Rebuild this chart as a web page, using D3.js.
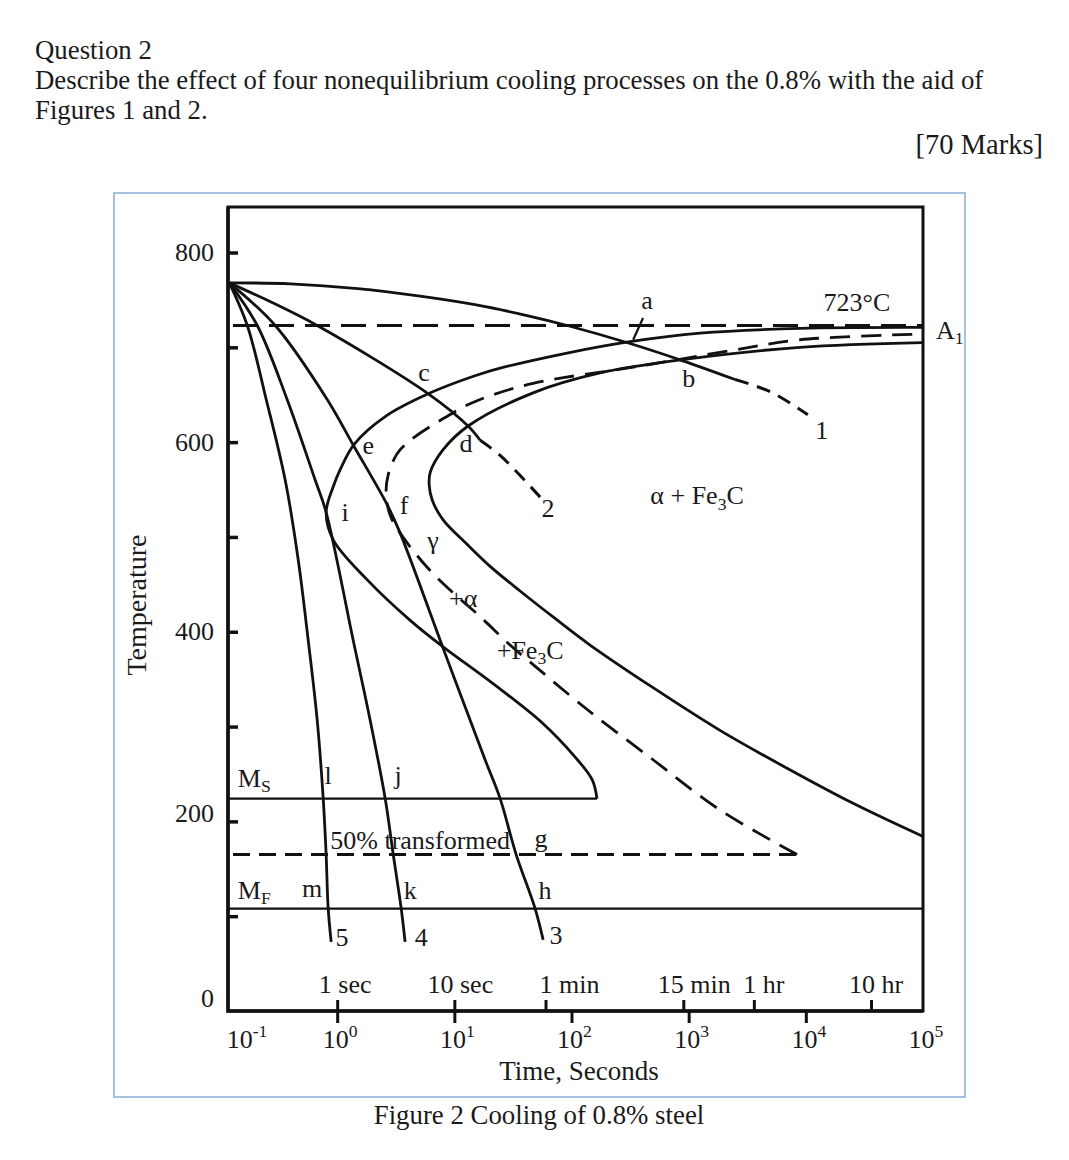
<!DOCTYPE html>
<html>
<head>
<meta charset="utf-8">
<script src="https://cdn.jsdelivr.net/npm/d3@7"></script>
<style>
body { margin: 0; background: #fff; }
svg text { font-family: "Liberation Serif", "Times New Roman", serif; fill: #1a1a1a; }
</style>
</head>
<body>
<svg id="chart" width="1069" height="1160"></svg>
<script>
"use strict";

// [time in seconds, temperature in C]
const COOLING_1 = [[0.12, 768], [0.4, 767], [1.5, 762], [5.1, 754], [15, 745], [40, 734], [92, 723], [316, 704], [880, 686], [2490, 666]];
const COOLING_1_TAIL = [[2490, 666], [5000, 653], [10400, 629]];
const COOLING_2 = [[0.12, 768], [0.27, 748], [0.675, 723], [6.0, 651], [13.1, 617], [16.6, 602]];
const COOLING_2_TAIL = [[16.6, 602], [24.6, 586], [54, 542]];
const COOLING_3 = [[0.12, 768], [0.296, 723], [0.822, 645], [1.37, 597], [2.67, 534], [3.45, 504], [8.0, 383], [18.3, 265], [24.6, 224], [33.7, 165], [48.9, 108], [57.3, 75]];
const COOLING_4 = [[0.12, 768], [0.208, 723], [0.374, 645], [0.649, 560], [0.805, 526], [1.37, 391], [1.91, 307], [2.57, 224], [3.01, 165], [3.52, 108], [3.80, 73]];
const COOLING_5 = [[0.12, 768], [0.171, 723], [0.248, 645], [0.360, 560], [0.465, 476], [0.566, 391], [0.675, 307], [0.760, 224], [0.805, 165], [0.838, 108], [0.889, 73]];

const START_CURVE = [[165, 224], [150, 244], [107, 268], [56.1, 304], [21.0, 346], [8.02, 384], [4.20, 412], [1.80, 455], [0.925, 497], [0.805, 526], [0.925, 553], [1.06, 571], [1.40, 598], [2.57, 627], [5.98, 651], [15.0, 670], [24.6, 678], [91.7, 694], [316, 706], [1250, 715], [8930, 720], [100000, 721]];
const HALF_CURVE = [[8410, 165], [1850, 212], [497, 265], [136, 318], [44.4, 368], [29.9, 386], [16.6, 416], [9.77, 441], [5.86, 468], [3.45, 504], [2.83, 523], [2.62, 544], [2.72, 565], [3.45, 592], [9.77, 631], [16.6, 645], [47.0, 662], [336, 679], [2390, 697], [8930, 708], [100000, 714]];
const FINISH_CURVE = [[100000, 184], [25300, 219], [6920, 256], [1850, 296], [497, 341], [144, 386], [72.4, 414], [36.4, 443], [20.2, 469], [12.9, 492], [8.02, 518], [6.47, 539], [6.10, 555], [6.22, 568], [8.02, 592], [13.1, 617], [47.0, 652], [175, 673], [879, 687], [8930, 700], [100000, 705]];

const A_MARK = [[336, 708], [408, 731]];

const T_A1 = 723;
const T_MS = 224;
const T_HALF = 165;
const T_MF = 108;
const HALF_END = 8410;

const Y_TICKS = [100, 200, 300, 400, 500, 600, 700, 800];
const Y_LABELS = [0, 200, 400, 600, 800];
const DECADES = [0.1, 1, 10, 100, 1000, 10000, 100000];
const DECADE_LABELS = ["10^-1", "10^0", "10^1", "10^2", "10^3", "10^4", "10^5"];
const TIME_MARKS = [1, 10, 60, 900, 3600, 36000];
const TIME_LABELS = ["1 sec", "10 sec", "1 min", "15 min", "1 hr", "10 hr"];

const NOTES = [
	["a", 442, 750], ["b", 1000, 668], ["c", 5.52, 674], ["d", 12.6, 599], ["e", 1.84, 597],
	["f", 3.73, 534], ["i", 1.17, 526], ["γ", 6.59, 497], ["+α", 11.9, 436], ["+Fe_3C", 44.4, 381],
	["1", 13700, 613], ["2", 63.1, 531], ["α + Fe_3C", 1180, 544], ["723°C", 27300, 748],
	["M_S", 0.196, 246], ["l", 0.838, 249], ["j", 3.31, 249],
	["50% transformed", 5.11, 180], ["g", 55.0, 182],
	["M_F", 0.196, 128], ["m", 0.612, 130], ["k", 4.20, 128], ["h", 59.5, 128],
	["5", 1.10, 78], ["4", 5.21, 78], ["3", 73.9, 80],
];

(function() {

const LEFT = 228, RIGHT = 923, TOP = 207, BOTTOM = 1011;
const FS = 26;
const LW = 2.8;

let svg = d3.select("#chart");

let x = d3.scaleLog().domain([0.117, 1e5]).range([LEFT, RIGHT]);
let y = d3.scaleLinear().domain([0, 848]).range([BOTTOM, TOP]);

// text with "_x" subscripts and "^x" superscripts
function rich(sel, str, size) {
	let re = /([_^])(-?\w)|([^_^]+)/g, m, offset = 0;
	sel.attr("font-size", size);
	while ((m = re.exec(str))) {
		let kind = m[3] ? 0 : (m[1] === "_" ? 1 : -1);
		let target = kind === 1 ? size * 0.32 : kind === -1 ? -size * 0.42 : 0;
		sel.append("tspan")
			.attr("dy", target - offset)
			.attr("font-size", kind ? size * 0.68 : size)
			.text(m[3] || m[2]);
		offset = target;
	}
	return sel;
}

// header
let header = [["Question 2", 59], ["Describe the effect of four nonequilibrium cooling processes on the 0.8% with the aid of", 89], ["Figures 1 and 2.", 119]];
header.forEach(([t, yy]) => {
	svg.append("text").attr("x", 35).attr("y", yy).attr("font-size", 26.8).text(t);
});
svg.append("text").attr("x", 1043).attr("y", 154).attr("text-anchor", "end").attr("font-size", 28.5).text("[70 Marks]");

// outer blue frame
svg.append("rect")
	.attr("x", 114).attr("y", 193).attr("width", 851).attr("height", 904)
	.attr("fill", "none").attr("stroke", "#a6c0df").attr("stroke-width", 2);

let plot = svg.append("g").attr("fill", "none").attr("stroke", "#111");

// frame
plot.append("path")
	.attr("d", `M${LEFT},${BOTTOM}L${LEFT},${TOP}L${RIGHT},${TOP}L${RIGHT},${BOTTOM}Z`)
	.attr("stroke-width", 3);
plot.append("path")
	.attr("d", `M${LEFT},${TOP}L${LEFT},${BOTTOM}L${RIGHT},${BOTTOM}`)
	.attr("stroke-width", 3.5);

// axes ticks
svg.append("g")
	.attr("transform", `translate(${LEFT},0)`)
	.call(d3.axisRight(y).tickValues(Y_TICKS).tickSize(10).tickFormat(""))
	.call(g => g.select(".domain").remove())
	.call(g => g.selectAll("line").attr("stroke", "#111").attr("stroke-width", 3.5));

svg.append("g")
	.attr("transform", `translate(0,${BOTTOM})`)
	.call(d3.axisBottom(x).tickValues(DECADES.slice(1, 6)).tickSize(12).tickFormat(""))
	.call(g => g.select(".domain").remove())
	.call(g => g.selectAll("line").attr("stroke", "#111").attr("stroke-width", 3));

svg.append("g")
	.attr("transform", `translate(0,${BOTTOM})`)
	.call(d3.axisTop(x).tickValues(TIME_MARKS).tickSize(11).tickFormat(""))
	.call(g => g.select(".domain").remove())
	.call(g => g.selectAll("line").attr("stroke", "#111").attr("stroke-width", 3));

// tick labels
let yNudge = {0: -13, 200: -8};
Y_LABELS.forEach(v => {
	svg.append("text")
		.attr("x", 214).attr("y", y(v) + (yNudge[v] || 0))
		.attr("text-anchor", "end").attr("dominant-baseline", "central")
		.attr("font-size", FS).text(v);
});

DECADES.forEach((v, i) => {
	let t = svg.append("text")
		.attr("x", Math.max(x(v), LEFT + 16) + 3).attr("y", 1048)
		.attr("text-anchor", "middle");
	rich(t, DECADE_LABELS[i], FS);
});

let timeNudge = [8, 6, 24, 11, 10, 5];
TIME_MARKS.forEach((v, i) => {
	svg.append("text")
		.attr("x", x(v) + timeNudge[i]).attr("y", 993)
		.attr("text-anchor", "middle").attr("font-size", FS)
		.text(TIME_LABELS[i]);
});

svg.append("text")
	.attr("transform", "translate(146,605) rotate(-90)")
	.attr("text-anchor", "middle").attr("font-size", 28)
	.text("Temperature");

svg.append("text")
	.attr("x", 579).attr("y", 1080).attr("text-anchor", "middle").attr("font-size", 27)
	.text("Time, Seconds");

svg.append("text")
	.attr("x", 539).attr("y", 1124).attr("text-anchor", "middle").attr("font-size", 26.8)
	.text("Figure 2 Cooling of 0.8% steel");

// horizontal reference lines
let hline = (t, x0, x1) => `M${x0},${y(t)}L${x1},${y(t)}`;
plot.append("path").attr("d", hline(T_A1, LEFT + 5, RIGHT)).attr("stroke-width", LW).attr("stroke-dasharray", "25 11");
plot.append("path").attr("d", hline(T_MS, LEFT, x(START_CURVE[0][0]))).attr("stroke-width", 2.4);
plot.append("path").attr("d", hline(T_HALF, LEFT + 5, x(HALF_END))).attr("stroke-width", 3).attr("stroke-dasharray", "17 9");
plot.append("path").attr("d", hline(T_MF, LEFT, RIGHT)).attr("stroke-width", 2.4);

// curves
let line = d3.line()
	.x(d => x(d[0]))
	.y(d => y(d[1]))
	.curve(d3.curveCatmullRom.alpha(0.5));

let solid = [COOLING_1, COOLING_2, COOLING_3, COOLING_4, COOLING_5, START_CURVE, FINISH_CURVE];
solid.forEach(d => {
	plot.append("path").datum(d).attr("d", line).attr("stroke-width", LW);
});

plot.append("path").datum(HALF_CURVE).attr("d", line).attr("stroke-width", LW).attr("stroke-dasharray", "20 11");
[COOLING_1_TAIL, COOLING_2_TAIL].forEach(d => {
	plot.append("path").datum(d).attr("d", line).attr("stroke-width", 3).attr("stroke-dasharray", "14 9");
});

plot.append("path").datum(A_MARK).attr("d", d3.line().x(d => x(d[0])).y(d => y(d[1]))).attr("stroke-width", 2.2);

// annotations
NOTES.forEach(([label, t, temp]) => {
	let el = svg.append("text")
		.attr("x", x(t)).attr("y", y(temp))
		.attr("text-anchor", "middle").attr("dominant-baseline", "central");
	rich(el, label, FS);
});

let a1 = svg.append("text")
	.attr("x", RIGHT + 13).attr("y", y(T_A1) + 4)
	.attr("dominant-baseline", "central");
rich(a1, "A_1", FS);

})();
</script>
</body>
</html>
